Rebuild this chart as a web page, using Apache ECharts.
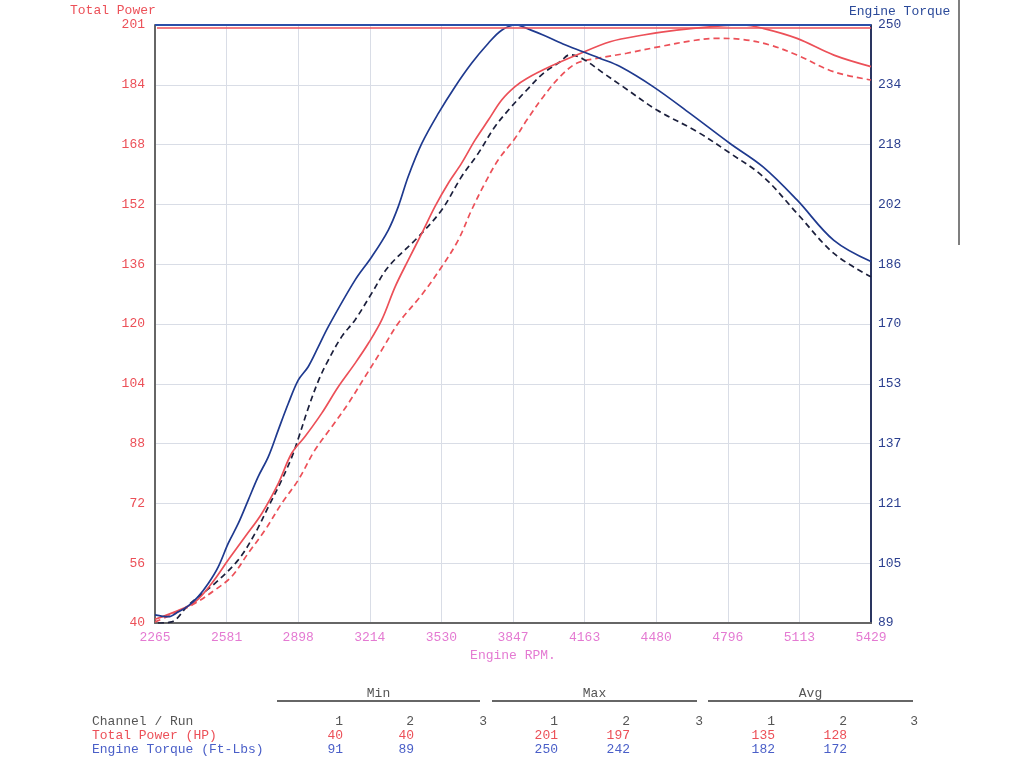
<!DOCTYPE html>
<html>
<head>
<meta charset="utf-8">
<title>Dyno chart</title>
<script src="https://cdn.jsdelivr.net/npm/echarts@6/dist/echarts.min.js"></script>
<style>
  html, body { margin: 0; padding: 0; background: #fff; }
  #chart { width: 1024px; height: 768px; }
</style>
</head>
<body>
<div id="chart"></div>
<script>
  // tick labels as printed on the sheet
  var rpmTicks = ['2265', '2581', '2898', '3214', '3530', '3847', '4163', '4480', '4796', '5113', '5429'];
  var powerTicks = ['40', '56', '72', '88', '104', '120', '136', '152', '168', '184', '201'];
  var torqueTicks = ['89', '105', '121', '137', '153', '170', '186', '202', '218', '234', '250'];

  // [rpm, HP]
  var powerRun1 = [
    [2265, 41.0], [2353, 43.0], [2442, 45.7], [2516, 50.7], [2589, 57.0], [2663, 63.2], [2737, 69.5],
    [2810, 77.6], [2869, 85.7], [2928, 90.2], [3002, 96.5], [3075, 103.6], [3149, 109.9], [3208, 115.3],
    [3267, 121.6], [3326, 130.5], [3384, 137.7], [3444, 144.9], [3502, 152.1], [3561, 158.4], [3620, 163.8],
    [3679, 170.0], [3738, 175.4], [3797, 180.8], [3856, 184.4], [3908, 186.6], [4011, 189.8], [4128, 192.9],
    [4276, 196.5], [4423, 198.3], [4570, 199.6], [4718, 200.5], [4863, 201.0], [4952, 200.1], [5102, 197.4],
    [5265, 192.9], [5429, 189.8]
  ];
  var powerRun2 = [
    [2265, 40.3], [2353, 42.6], [2442, 45.3], [2530, 48.9], [2604, 52.5], [2677, 58.8], [2751, 65.0],
    [2825, 72.2], [2898, 78.5], [2972, 86.6], [3046, 92.8], [3119, 99.1], [3193, 106.3], [3267, 113.5],
    [3340, 120.7], [3444, 128.4], [3532, 135.9], [3605, 143.1], [3664, 151.2], [3723, 158.4], [3782, 164.7],
    [3856, 170.5], [3908, 175.4], [3981, 181.7], [4055, 187.1], [4128, 190.7], [4217, 192.0], [4349, 193.4],
    [4497, 195.2], [4642, 196.8], [4748, 197.4], [4863, 197.1], [4983, 195.6], [5102, 192.9], [5265, 188.4],
    [5429, 186.2]
  ];
  // [rpm, Ft-Lbs]
  var torqueRun1 = [
    [2265, 91.2], [2324, 90.7], [2368, 92.0], [2412, 93.6], [2456, 96.1], [2501, 99.7], [2545, 104.2],
    [2589, 110.5], [2633, 115.8], [2677, 122.1], [2721, 128.4], [2766, 133.8], [2810, 141.0], [2854, 148.1],
    [2898, 154.4], [2942, 158.0], [2987, 163.4], [3031, 168.8], [3149, 181.3], [3223, 187.6],
    [3296, 194.8], [3340, 201.1], [3384, 209.2], [3444, 218.1], [3517, 226.2], [3591, 233.4], [3664, 239.7],
    [3738, 245.1], [3797, 248.6], [3860, 250.0], [3891, 249.5], [3980, 247.3], [4068, 244.9], [4156, 242.8],
    [4232, 241.0], [4320, 238.8], [4466, 233.4], [4629, 226.2], [4806, 218.1], [4952, 211.8], [5102, 202.9],
    [5265, 192.0], [5429, 186.3]
  ];
  var torqueRun2 = [
    [2278, 89.0], [2339, 89.3], [2412, 93.8], [2530, 99.7], [2633, 106.0], [2707, 113.1], [2766, 120.3],
    [2825, 127.5], [2869, 133.6], [2898, 138.6], [2942, 146.8], [2987, 154.2], [3031, 159.8], [3090, 166.1],
    [3149, 170.6], [3223, 177.8], [3296, 184.9], [3429, 193.0], [3532, 200.2], [3620, 209.2], [3694, 215.5],
    [3767, 222.6], [3834, 227.6], [3908, 232.5], [3981, 237.0], [4055, 240.1], [4099, 242.0], [4158, 240.8],
    [4245, 237.1], [4333, 233.4], [4483, 227.1], [4660, 221.3], [4806, 215.5], [4952, 209.2], [5102, 199.3],
    [5265, 188.5], [5429, 182.2]
  ];

  // summary table
  var tableGroups = ['Min', 'Max', 'Avg'];
  var runNames = ['1', '2', '3'];
  var powerStats = [['40', '40', ''], ['201', '197', ''], ['135', '128', '']];
  var torqueStats = [['91', '89', ''], ['250', '242', ''], ['182', '172', '']];

  var RED = '#ec5058';
  var BLUE = '#1f3a8f';
  var DARK = '#1b1f3c';
  var PINK = '#e47ad2';
  var MONO = '"Liberation Mono", "DejaVu Sans Mono", monospace';

  var G_LEFT = 155, G_RIGHT = 871, G_TOP = 25, G_BOTTOM = 623;

  var rpmMin = +rpmTicks[0], rpmMax = +rpmTicks[rpmTicks.length - 1];
  var pMin = +powerTicks[0], pMax = +powerTicks[powerTicks.length - 1];
  var tMin = +torqueTicks[0], tMax = +torqueTicks[torqueTicks.length - 1];

  function tickLabel(list, min, step) {
    return function (value) {
      var i = Math.round((value - min) / step);
      return list[i] !== undefined ? list[i] : '';
    };
  }

  // frame decorations and the summary table
  var graphics = [
    { type: 'text', left: 70, top: 4, style: { text: 'Total Power', fill: RED, font: '13px ' + MONO } },
    { type: 'text', left: 849, top: 5, style: { text: 'Engine Torque', fill: '#2b4a9a', font: '13px ' + MONO } },
    { type: 'line', shape: { x1: G_LEFT, y1: G_TOP, x2: G_RIGHT, y2: G_TOP }, style: { stroke: '#2a4fa8', lineWidth: 2 }, z: 10 },
    { type: 'line', shape: { x1: G_LEFT + 2, y1: G_TOP + 3, x2: G_RIGHT, y2: G_TOP + 3 }, style: { stroke: RED, lineWidth: 1.5 }, z: 10 },
    { type: 'line', shape: { x1: 959, y1: 0, x2: 959, y2: 245 }, style: { stroke: '#555', lineWidth: 1.5 } },
    { type: 'text', left: 92, top: 715, style: { text: 'Channel / Run', fill: '#555', font: '13px ' + MONO } },
    { type: 'text', left: 92, top: 729, style: { text: 'Total Power (HP)', fill: RED, font: '13px ' + MONO } },
    { type: 'text', left: 92, top: 743, style: { text: 'Engine Torque (Ft-Lbs)', fill: '#4a5fc8', font: '13px ' + MONO } }
  ];
  var groupLines = [[277, 480], [492, 697], [708, 913]];
  var colRight = [[343, 414, 487], [558, 630, 703], [775, 847, 918]];
  tableGroups.forEach(function (g, gi) {
    var l = groupLines[gi];
    graphics.push({ type: 'line', shape: { x1: l[0], y1: 701, x2: l[1], y2: 701 }, style: { stroke: '#333', lineWidth: 1.5 } });
    graphics.push({ type: 'text', x: (l[0] + l[1]) / 2, y: 694, style: { text: g, fill: '#555', font: '13px ' + MONO, align: 'center', verticalAlign: 'middle' } });
    runNames.forEach(function (r, ri) {
      var x = colRight[gi][ri];
      graphics.push({ type: 'text', x: x, y: 722, style: { text: r, fill: '#555', font: '13px ' + MONO, align: 'right', verticalAlign: 'middle' } });
      graphics.push({ type: 'text', x: x, y: 736, style: { text: powerStats[gi][ri], fill: RED, font: '13px ' + MONO, align: 'right', verticalAlign: 'middle' } });
      graphics.push({ type: 'text', x: x, y: 750, style: { text: torqueStats[gi][ri], fill: '#4a5fc8', font: '13px ' + MONO, align: 'right', verticalAlign: 'middle' } });
    });
  });

  var chart = echarts.init(document.getElementById('chart'));
  var option = {
    animation: false,
    backgroundColor: '#fff',
    textStyle: { fontFamily: MONO },
    grid: { left: G_LEFT, right: 1024 - G_RIGHT, top: G_TOP, bottom: 768 - G_BOTTOM },
    xAxis: {
      type: 'value',
      min: rpmMin,
      max: rpmMax,
      interval: (rpmMax - rpmMin) / 10,
      name: 'Engine RPM.',
      nameLocation: 'middle',
      nameGap: 23,
      nameTextStyle: { color: PINK, fontSize: 13, fontFamily: MONO },
      axisLine: { lineStyle: { color: '#666', width: 2 } },
      axisTick: { show: false },
      axisLabel: { color: PINK, fontSize: 13, fontFamily: MONO, margin: 8, showMinLabel: true, showMaxLabel: true,
        formatter: tickLabel(rpmTicks, rpmMin, (rpmMax - rpmMin) / 10) },
      splitLine: { show: true, lineStyle: { color: '#d9dde6', width: 1 } }
    },
    yAxis: [
      {
        type: 'value',
        min: pMin,
        max: pMax,
        interval: (pMax - pMin) / 10,
        position: 'left',
        axisLine: { show: true, lineStyle: { color: '#666', width: 2 } },
        axisTick: { show: false },
        axisLabel: { color: RED, fontSize: 13, fontFamily: MONO, margin: 10, showMinLabel: true, showMaxLabel: true,
          formatter: tickLabel(powerTicks, pMin, (pMax - pMin) / 10) },
        splitLine: { show: true, lineStyle: { color: '#d9dde6', width: 1 } }
      },
      {
        type: 'value',
        min: tMin,
        max: tMax,
        interval: (tMax - tMin) / 10,
        position: 'right',
        axisLine: { show: true, lineStyle: { color: '#2a3560', width: 2 } },
        axisTick: { show: false },
        axisLabel: { color: '#2b3f8f', fontSize: 13, fontFamily: MONO, margin: 7, showMinLabel: true, showMaxLabel: true,
          formatter: tickLabel(torqueTicks, tMin, (tMax - tMin) / 10) },
        splitLine: { show: false }
      }
    ],
    series: [
      { name: 'Total Power Run 1', type: 'line', yAxisIndex: 0, data: powerRun1, smooth: 0.35, showSymbol: false,
        lineStyle: { color: RED, width: 1.7 }, z: 3 },
      { name: 'Total Power Run 2', type: 'line', yAxisIndex: 0, data: powerRun2, smooth: 0.35, showSymbol: false,
        lineStyle: { color: RED, width: 1.7, type: [6, 4] }, z: 2 },
      { name: 'Engine Torque Run 1', type: 'line', yAxisIndex: 1, data: torqueRun1, smooth: 0.35, showSymbol: false,
        lineStyle: { color: BLUE, width: 1.7 }, z: 4 },
      { name: 'Engine Torque Run 2', type: 'line', yAxisIndex: 1, data: torqueRun2, smooth: 0.35, showSymbol: false,
        lineStyle: { color: DARK, width: 1.7, type: [6, 4] }, z: 2 }
    ],
    graphic: graphics
  };
  chart.setOption(option);
</script>
</body>
</html>
